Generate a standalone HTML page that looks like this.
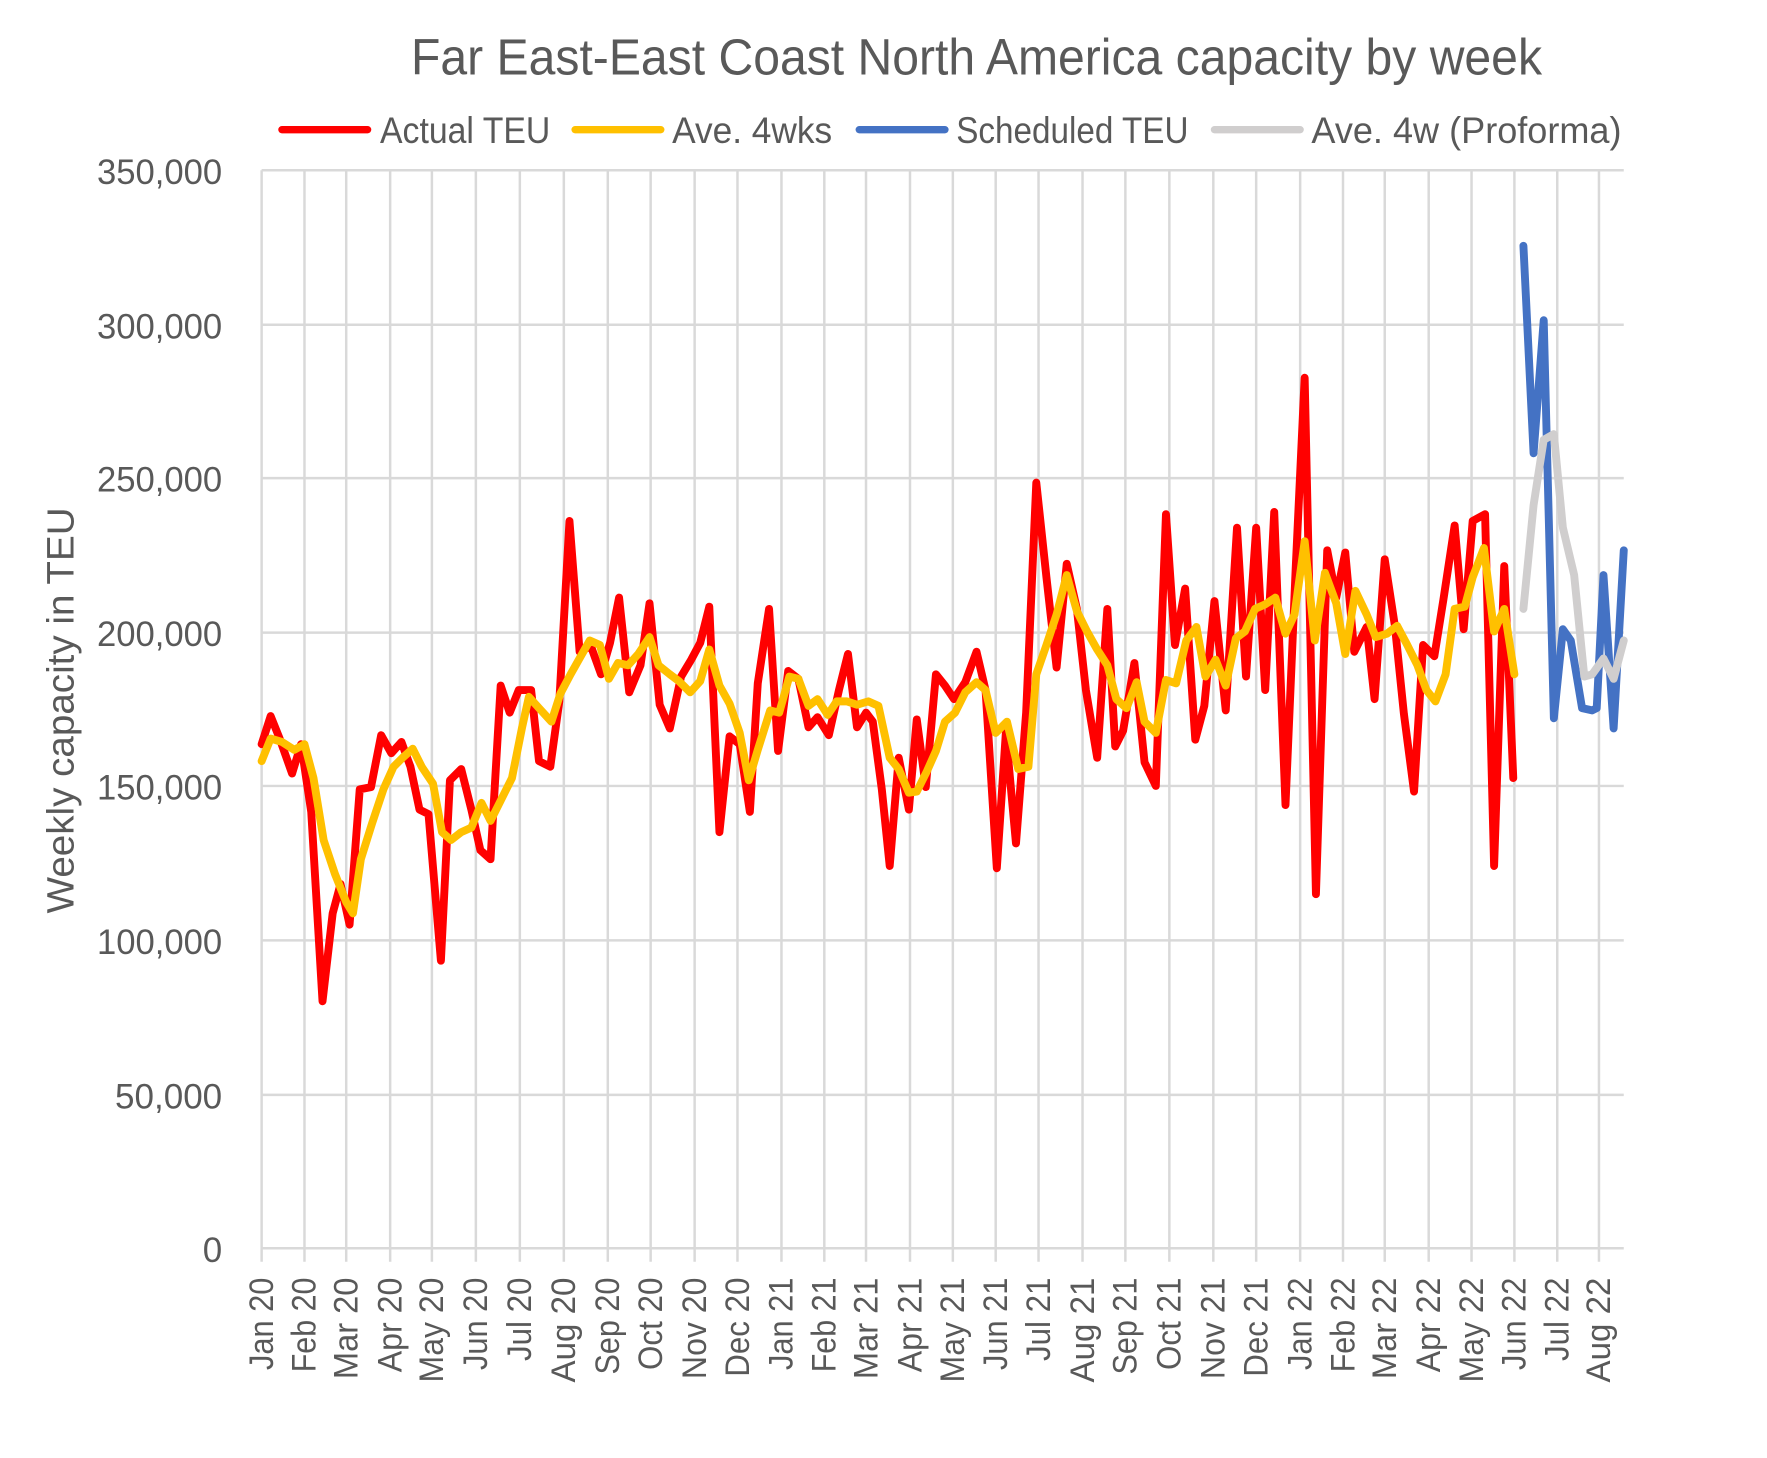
<!DOCTYPE html>
<html><head><meta charset="utf-8"><style>
html,body{margin:0;padding:0;background:#fff;}
svg{display:block;}
text{font-family:"Liberation Sans Narrow","Liberation Sans",sans-serif;fill:#595959;font-stretch:condensed;}
</style></head><body>
<svg width="1767" height="1458" viewBox="0 0 1567 1293" xmlns="http://www.w3.org/2000/svg">
<rect width="1567" height="1293" fill="#fff"/>
<text x="866" y="66" font-size="45" text-anchor="middle" textLength="1003" lengthAdjust="spacingAndGlyphs">Far East-East Coast North America capacity by week</text>
<g stroke-width="6.5" stroke-linecap="round">
<line x1="250" y1="115" x2="326" y2="115" stroke="#ff0000"/>
<line x1="510" y1="115" x2="586" y2="115" stroke="#ffc000"/>
<line x1="762" y1="115" x2="838" y2="115" stroke="#4472c4"/>
<line x1="1077" y1="115" x2="1153" y2="115" stroke="#d0cece"/>
</g>
<g font-size="33">
<text x="337" y="127" textLength="151" lengthAdjust="spacingAndGlyphs">Actual TEU</text>
<text x="596" y="127" textLength="142" lengthAdjust="spacingAndGlyphs">Ave. 4wks</text>
<text x="848" y="127" textLength="206" lengthAdjust="spacingAndGlyphs">Scheduled TEU</text>
<text x="1163" y="127" textLength="275" lengthAdjust="spacingAndGlyphs">Ave. 4w (Proforma)</text>
</g>
<g stroke="#d9d9d9" stroke-width="2.2">
<line x1="232" y1="151" x2="1440" y2="151"/><line x1="232" y1="288" x2="1440" y2="288"/>
<line x1="232" y1="424" x2="1440" y2="424"/><line x1="232" y1="561" x2="1440" y2="561"/>
<line x1="232" y1="697" x2="1440" y2="697"/><line x1="232" y1="834" x2="1440" y2="834"/>
<line x1="232" y1="971" x2="1440" y2="971"/><line x1="232" y1="1107" x2="1440" y2="1107"/>
</g>
<g stroke="#d9d9d9" stroke-width="2.2" id="vg"></g>
<g font-size="31" text-anchor="end">
<text x="197" y="163" textLength="111" lengthAdjust="spacingAndGlyphs">350,000</text>
<text x="197" y="300" textLength="111" lengthAdjust="spacingAndGlyphs">300,000</text>
<text x="197" y="436" textLength="111" lengthAdjust="spacingAndGlyphs">250,000</text>
<text x="197" y="573" textLength="111" lengthAdjust="spacingAndGlyphs">200,000</text>
<text x="197" y="709" textLength="111" lengthAdjust="spacingAndGlyphs">150,000</text>
<text x="197" y="846" textLength="111" lengthAdjust="spacingAndGlyphs">100,000</text>
<text x="197" y="983" textLength="95" lengthAdjust="spacingAndGlyphs">50,000</text>
<text x="197" y="1119">0</text>
</g>
<text transform="translate(65,630) rotate(-90)" font-size="34" text-anchor="middle" textLength="360" lengthAdjust="spacingAndGlyphs">Weekly capacity in TEU</text>
<g id="xl" font-size="30" text-anchor="end"></g>
<g fill="none" stroke-width="7" stroke-linejoin="round" stroke-linecap="round">
<polyline stroke="#ff0000" points="232,660 240,635 248,655 259,686 267,660 276,720 286,888 295,810 302,784 310,820 319,700 329,698 338,652 347,668 356,658 364,680 372,718 380,722 391,852 399,692 409,682 418,718 426,754 435,762 444,608 452,632 460,612 471,612 478,675 488,680 496,622 505,462 514,578 524,573 533,598 541,570 549,530 558,614 568,590 576,535 585,625 594,646 604,600 613,585 621,570 629,538 638,738 647,653 656,660 665,720 672,606 682,540 690,666 699,595 708,602 717,645 725,636 735,652 744,612 752,580 760,645 768,632 774,640 782,700 789,768 797,672 806,718 813,638 821,698 830,598 838,608 846,620 856,605 866,578 874,612 884,770 892,650 901,748 910,632 919,428 928,512 937,592 946,500 955,540 963,612 973,672 982,540 989,662 996,648 1006,588 1015,676 1025,697 1034,456 1042,572 1051,522 1060,656 1068,626 1077,533 1087,630 1097,468 1105,600 1114,468 1122,612 1130,454 1140,714 1149,505 1157,335 1167,793 1177,488 1185,530 1193,490 1201,578 1212,556 1219,620 1228,496 1237,555 1245,633 1254,702 1262,572 1272,582 1280,532 1290,466 1298,558 1306,462 1317,456 1325,768 1334,502 1342,690"/>
<polyline stroke="#ffc000" points="232,675 240,655 250,658 261,665 270,660 278,690 287,745 297,775 307,800 313,810 320,762 330,730 340,700 349,680 357,672 366,664 374,680 384,695 392,738 400,745 409,738 418,734 427,712 435,728 444,710 454,690 463,645 469,618 478,628 489,640 497,615 506,598 515,582 523,568 532,572 540,602 548,588 557,590 566,580 576,565 584,590 594,598 602,604 612,614 621,604 629,576 638,608 647,624 656,650 664,692 672,665 683,630 691,632 700,600 708,602 717,626 725,620 734,634 742,622 751,622 760,625 770,622 779,626 789,672 797,682 806,703 813,702 822,684 830,666 838,640 847,632 856,614 866,605 874,612 883,650 893,640 903,682 912,680 919,598 928,572 937,545 946,510 955,542 964,560 973,576 982,590 990,620 999,628 1008,605 1015,640 1025,650 1034,603 1043,606 1052,568 1061,556 1069,600 1078,585 1087,608 1096,566 1104,560 1113,540 1122,536 1131,530 1140,562 1148,545 1157,480 1166,568 1175,508 1185,535 1193,580 1202,524 1212,545 1220,565 1230,562 1239,555 1248,572 1257,590 1265,612 1273,622 1282,598 1290,540 1299,538 1306,512 1316,486 1325,560 1334,540 1343,598"/>
<polyline stroke="#4472c4" points="1351,218 1360,402 1369,284 1378,637 1386,558 1393,568 1403,628 1412,630 1416,628 1422,510 1431,646 1440,488"/>
<polyline stroke="#d0cece" points="1351,540 1360,448 1369,390 1378,385 1386,468 1396,510 1405,600 1412,598 1422,584 1431,602 1440,568"/>
</g>
<script>
var xs=[232,270,307,346,383,422,461,500,539,577,616,654,693,731,768,807,845,883,921,960,998,1037,1076,1114,1153,1191,1228,1267,1305,1343,1381,1418];
var m=["Jan","Feb","Mar","Apr","May","Jun","Jul","Aug","Sep","Oct","Nov","Dec"];
var w={Jan:82,Feb:84,Mar:90,Apr:84,May:93,Jun:82,Jul:74,Aug:93,Sep:86,Oct:82,Nov:90,Dec:88};
var vg=document.getElementById("vg"),xl=document.getElementById("xl"),ns="http://www.w3.org/2000/svg";
xs.forEach(function(x,i){
 var l=document.createElementNS(ns,"line");l.setAttribute("x1",x);l.setAttribute("x2",x);l.setAttribute("y1",151);l.setAttribute("y2",1119);vg.appendChild(l);
 var t=document.createElementNS(ns,"text");t.setAttribute("transform","translate("+(x+10)+",1133) rotate(-90)");
 var mm=m[i%12];t.setAttribute("textLength",w[mm]);t.setAttribute("lengthAdjust","spacingAndGlyphs");
 t.textContent=mm+" "+(20+Math.floor(i/12));xl.appendChild(t);
});
</script>
</svg>
</body></html>
